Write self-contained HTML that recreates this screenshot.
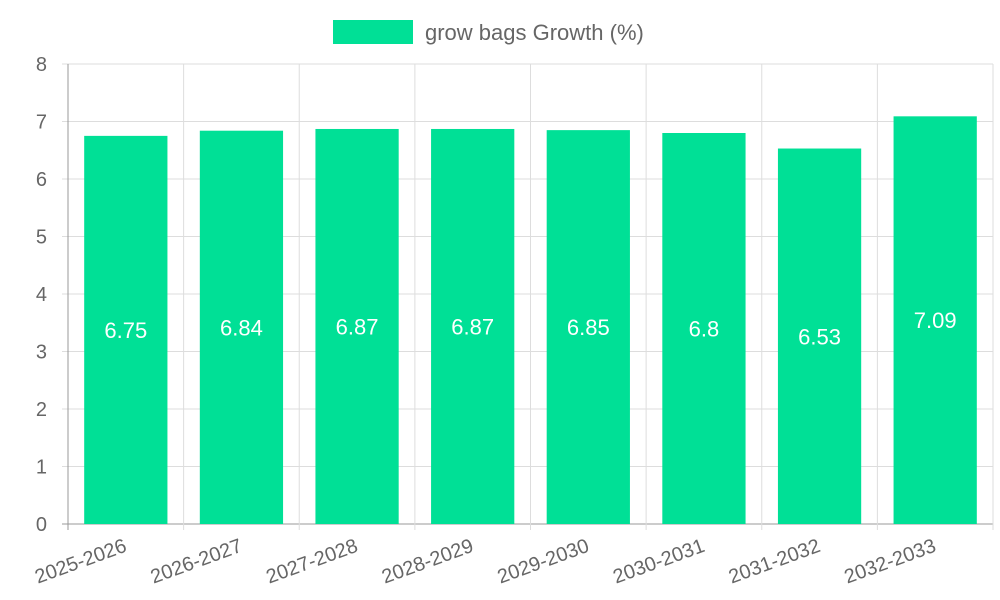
<!DOCTYPE html>
<html><head><meta charset="utf-8"><style>
body{margin:0;background:#fff;}
svg{display:block;font-family:"Liberation Sans",sans-serif;}
</style></head><body>
<svg id="chart" width="1000" height="600">
<g>
<rect x="333" y="20" width="80" height="24" fill="#00e096"></rect>
<text x="425" y="40" font-size="22" fill="#666">grow bags Growth (%)</text>
</g>
<g id="grid"></g><g id="bars"></g><g id="axes"></g>
</svg>
<script>
const categories=["2025-2026","2026-2027","2027-2028","2028-2029","2029-2030","2030-2031","2031-2032","2032-2033"];
const values=[6.75,6.84,6.87,6.87,6.85,6.8,6.53,7.09];
const valueLabels=["6.75","6.84","6.87","6.87","6.85","6.8","6.53","7.09"];
const yTicks=[0,1,2,3,4,5,6,7,8];
const NS="http://www.w3.org/2000/svg";
const L=68,R=993,T=64,B=524,yMax=8;
const y=v=>B-(v/yMax)*(B-T);
const bw=(R-L)/categories.length;
const x=i=>L+i*bw;
function mk(t,a,p){const e=document.createElementNS(NS,t);for(const k in a)e.setAttribute(k,a[k]);p.appendChild(e);return e;}
const grid=document.getElementById('grid'),bars=document.getElementById('bars'),axes=document.getElementById('axes');
yTicks.forEach(v=>{
 const l=mk('line',{x1:62,x2:R,y1:y(v),y2:y(v),stroke:v===0?'#999':'#ddd','stroke-width':1},grid);
 
 
 const t=mk('text',{x:47,y:y(v)+7,'text-anchor':'end','font-size':20,fill:'#666'},axes);
 t.textContent=v;
 
 
});
for(let i=0;i<=categories.length;i++){
 const l=mk('line',{x1:x(i),x2:x(i),y1:T,y2:B+6,stroke:i===0?'#999':'#ddd','stroke-width':1},grid);
 
 
}
categories.forEach((c,i)=>{
 const cx=x(i)+bw/2,w=bw*0.72;
 const r=mk('rect',{x:cx-w/2,y:y(values[i]),width:w,height:B-y(values[i]),fill:'#00e096'},bars);
 
 
 const t=mk('text',{x:cx,y:(y(values[i])+B)/2+8,'text-anchor':'middle','font-size':22,fill:'#fff'},bars);
 t.textContent=valueLabels[i];
 
 
 const xl=mk('text',{x:0,y:0,'text-anchor':'end','font-size':20,fill:'#666',transform:`translate(${cx+2},${B+27}) rotate(-20)`},axes);
 xl.textContent=c;
 
 
});
</script>
</body></html>
